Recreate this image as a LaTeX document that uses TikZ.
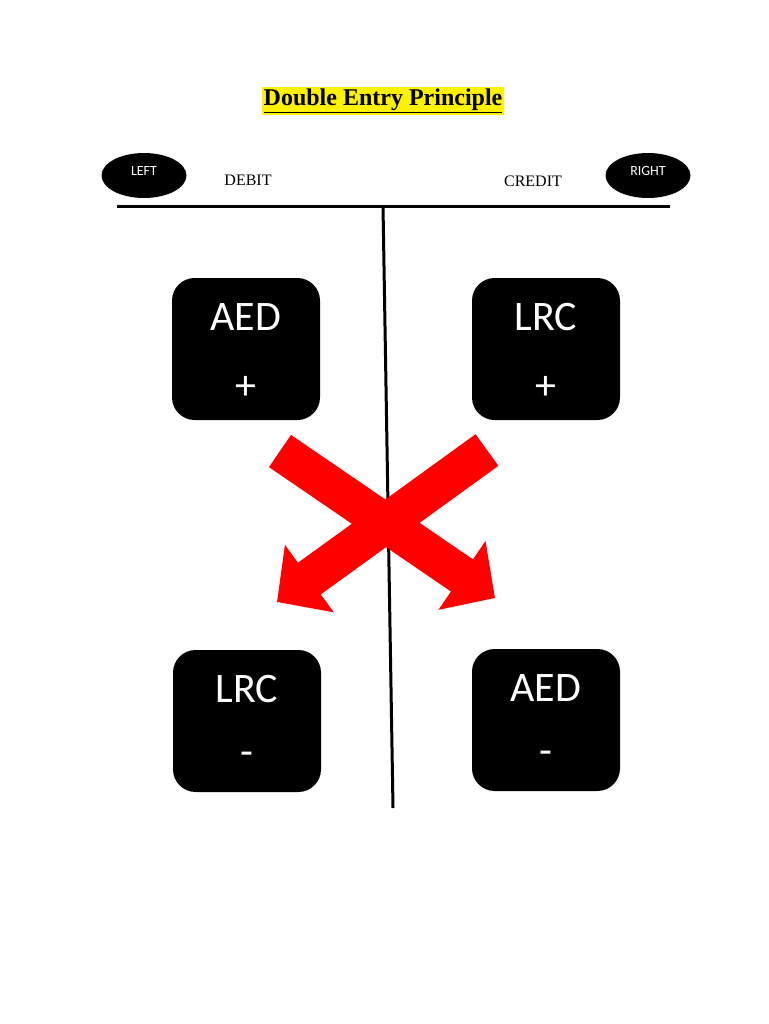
\documentclass[tikz,border=0pt]{standalone}
\usepackage{fontspec}
\setmainfont{Liberation Serif}
\newfontfamily\calfont{Carlito}
\usetikzlibrary{arrows.meta,shapes.geometric}

\tikzset{
  tile/.style={fill=black, rounded corners=17pt, minimum width=111pt, minimum height=106.5pt, inner sep=0pt},
  tiletext/.style={text=white, font=\calfont\fontsize{31.5}{36}\selectfont, inner sep=0pt},
  oval/.style={ellipse, fill=black, minimum width=63.75pt, minimum height=33.75pt, inner sep=0pt},
  ovaltext/.style={text=white, font=\calfont\fontsize{10.5}{12}\selectfont, inner sep=0pt},
  sidetext/.style={font=\fontsize{12}{14}\selectfont, inner sep=0pt},
  titlebox/.style={fill=yellow, font=\bfseries\fontsize{18}{20}\selectfont, inner xsep=1pt, inner ysep=1pt},
  tline/.style={line width=2.25pt},
  bigarrow/.style={draw=red, line width=29.25pt, -{Triangle[width=60.75pt,length=30pt]}}
}

\begin{document}
\begin{tikzpicture}[x=0.75pt,y=0.75pt,yscale=-1,xscale=1]
\useasboundingbox (0,0) rectangle (768,1024);

% Text Node
\node [titlebox] (title) at (383,101) {\underline{Double Entry Principle}};

%Shape: Ellipse
\node [oval] (leftoval) at (144,175.5) {};
\node [ovaltext] (lefttxt) at (144,171) {LEFT};
%Shape: Ellipse
\node [oval] (rightoval) at (648,175.5) {};
\node [ovaltext] (righttxt) at (648,171) {RIGHT};

% Text Node
\node [sidetext] (debit) at (248,180) {DEBIT};
% Text Node
\node [sidetext] (credit) at (533,181) {CREDIT};

%Straight Lines
\coordinate (hleft) at (117,206);
\coordinate (hright) at (670,206);
\coordinate (vtop) at (383,206);
\coordinate (vbot) at (393,808);
\draw [tline] (hleft) -- (hright);
\draw [tline] (vtop) -- (vbot);

%Shape: Rounded Rect
\node [tile] (aedplus) at (246,349) {};
\node [tiletext] (aedplusname) at (246,317) {AED};
\node [tiletext] (aedplussign) at (246,388) {+};
%Shape: Rounded Rect
\node [tile] (lrcplus) at (546,349) {};
\node [tiletext] (lrcplusname) at (546,317) {LRC};
\node [tiletext] (lrcplussign) at (546,388) {+};
%Shape: Rounded Rect
\node [tile] (lrcminus) at (247,721) {};
\node [tiletext] (lrcminusname) at (247,689) {LRC};
\node [tiletext] (lrcminussign) at (247,759) {-};
%Shape: Rounded Rect
\node [tile] (aedminus) at (546,720) {};
\node [tiletext] (aedminusname) at (546,688) {AED};
\node [tiletext] (aedminussign) at (546,758) {-};

%Block Arrows
\coordinate (crossAs) at (280,451);
\coordinate (crossAe) at (495,598);
\coordinate (crossBs) at (487,450);
\coordinate (crossBe) at (277,602);
\draw [bigarrow] (crossAs) -- (crossAe);
\draw [bigarrow] (crossBs) -- (crossBe);

\end{tikzpicture}
\end{document}
